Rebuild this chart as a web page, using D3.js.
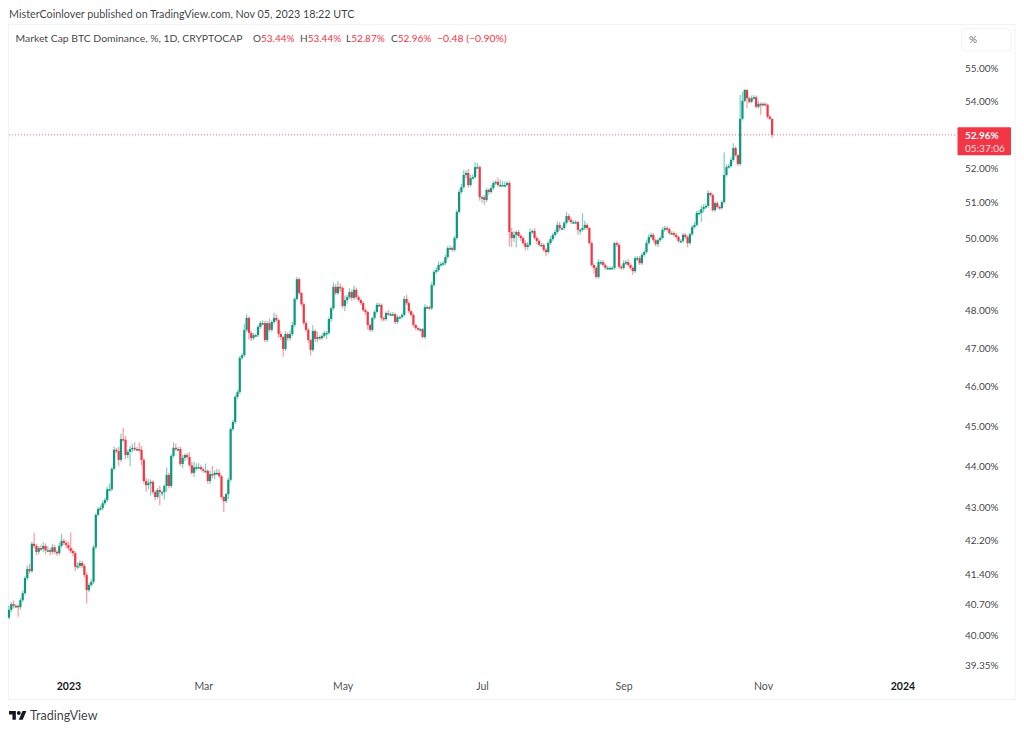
<!DOCTYPE html>
<html><head><meta charset="utf-8">
<style>
html,body{margin:0;padding:0;background:#fff}
svg{display:block}
text{font-family:"Lato",sans-serif}
</style>
<script src="https://cdn.jsdelivr.net/npm/d3@7"></script>
</head><body>
<svg id="c" width="1024" height="731"></svg>
<script>
const firstDay = "2022-12-06";
const firstOpen = 40.39;
const closes = [
40.57,40.70,40.66,40.66,40.63,40.79,40.95,41.30,41.51,41.46,
42.10,42.05,41.91,42.00,41.98,42.05,41.95,41.95,41.91,42.02,
41.91,41.88,42.05,42.17,42.12,42.07,42.00,41.93,41.88,41.56,
41.58,41.65,41.58,41.37,41.02,41.14,41.21,42.02,42.79,42.93,
42.95,43.07,43.15,43.41,43.41,43.91,44.38,44.35,44.13,44.65,
44.63,44.25,44.33,44.40,44.43,44.40,44.40,44.38,44.13,43.61,
43.51,43.56,43.59,43.34,43.22,43.39,43.34,43.34,43.49,43.76,
43.49,44.23,44.43,44.40,44.40,44.03,44.18,44.25,44.20,44.00,
43.81,43.95,43.95,43.95,43.90,43.86,43.86,43.61,43.78,43.76,
43.81,43.81,43.73,43.22,43.12,43.29,43.64,44.90,45.08,45.72,
45.84,46.73,46.80,47.47,47.79,47.39,47.25,47.33,47.33,47.55,
47.65,47.65,47.20,47.65,47.47,47.68,47.79,47.73,47.36,47.28,
46.96,47.36,47.25,47.36,47.60,48.30,48.84,48.46,48.16,47.65,
47.47,47.20,46.94,47.44,47.23,47.28,47.25,47.31,47.39,47.39,
47.76,48.05,48.63,48.46,48.63,48.60,48.11,48.27,48.35,48.49,
48.33,48.55,48.35,48.27,48.19,48.00,47.95,47.60,47.47,47.79,
47.95,48.14,48.14,47.79,47.76,47.92,47.89,47.89,47.89,47.68,
47.81,47.81,47.87,48.30,48.19,47.97,47.87,47.60,47.52,47.49,
47.49,47.28,48.08,48.08,48.05,48.68,49.04,49.09,49.23,49.26,
49.28,49.45,49.70,49.70,49.65,49.98,50.72,51.29,51.43,51.78,
51.84,51.49,51.69,51.72,52.01,52.01,51.14,51.14,51.06,51.35,
51.29,51.40,51.55,51.58,51.49,51.49,51.49,51.49,51.55,50.15,
49.98,50.07,50.15,50.04,49.98,49.84,49.73,49.79,50.15,50.18,
49.98,49.90,49.79,49.79,49.65,49.59,49.84,49.95,50.07,50.15,
50.35,50.26,50.26,50.41,50.60,50.49,50.43,50.43,50.43,50.21,
50.21,50.26,50.35,50.26,49.84,49.23,49.15,48.90,49.31,49.31,
49.23,49.15,49.15,49.15,49.15,49.84,49.79,49.18,49.15,49.28,
49.31,49.23,49.15,49.06,49.42,49.42,49.28,49.51,49.59,49.84,
50.01,50.07,49.92,49.81,49.92,49.98,50.21,50.26,50.23,50.12,
50.12,50.07,50.01,49.90,49.90,50.07,50.01,49.84,50.09,50.29,
50.35,50.69,50.69,50.80,50.86,50.89,51.26,51.20,50.77,50.97,
50.86,50.83,51.00,51.78,52.01,52.04,52.22,52.57,52.36,52.10,
53.44,53.98,54.31,54.06,53.95,54.06,54.09,53.80,53.89,53.86,
53.89,53.86,53.50,53.44,52.96];
const upperWick = [
.10,.05,.08,.04,.03,.05,.06,.04,.08,.12,
.05,.26,.05,.05,.08,.09,.06,.10,.05,.08,
.06,.04,.08,.17,.05,.05,.08,.36,.05,.05,
.08,.06,.05,.05,.06,.05,.06,.05,.04,.05,
.06,.06,.05,.06,.14,.05,.08,.05,.10,.14,
.28,.10,.06,.08,.10,.14,.05,.16,.10,.05,
.08,.10,.06,.04,.05,.05,.10,.04,.04,.18,
.06,.05,.14,.10,.05,.06,.08,.04,.06,.12,
.08,.14,.10,.10,.06,.05,.18,.04,.08,.20,
.06,.10,.08,.03,.03,.03,.05,.04,.05,.05,
.06,.05,.05,.16,.10,.04,.05,.06,.04,.05,
.06,.08,.06,.05,.12,.05,.14,.10,.03,.08,
.03,.08,.05,.10,.08,.05,.06,.04,.03,.05,
.06,.06,.03,.16,.05,.14,.05,.05,.05,.05,
.05,.05,.12,.08,.16,.10,.05,.12,.06,.10,
.06,.12,.06,.05,.04,.05,.05,.03,.05,.03,
.05,.06,.05,.04,.04,.05,.08,.05,.06,.04,
.06,.04,.05,.08,.12,.05,.04,.05,.03,.04,
.03,.03,.08,.05,.04,.08,.06,.08,.10,.05,
.06,.06,.05,.08,.05,.06,.06,.08,.10,.14,
.08,.12,.10,.08,.14,.12,.05,.04,.06,.05,
.05,.08,.05,.05,.12,.15,.12,.10,.05,.05,
.12,.10,.05,.06,.05,.05,.08,.08,.10,.05,
.08,.05,.05,.06,.04,.05,.05,.08,.05,.08,
.10,.08,.05,.05,.12,.06,.08,.05,.06,.04,
.05,.42,.12,.05,.03,.04,.05,.05,.08,.05,
.06,.04,.05,.04,.05,.04,.05,.05,.05,.08,
.06,.08,.05,.05,.05,.06,.06,.05,.05,.08,
.08,.06,.05,.05,.05,.06,.08,.06,.06,.05,
.05,.05,.05,.04,.05,.05,.05,.04,.04,.06,
.08,.06,.08,.10,.08,.06,.08,.04,.04,.05,
.05,.04,.05,.66,.08,.06,.08,.14,.05,.03,
.72,.27,.03,.03,.05,.08,.07,.05,.08,.05,
.05,.03,.04,.05,0];
const lowerWick = [
.03,.05,.06,.05,.22,.06,.04,.05,.05,.06,
.04,.05,.08,.06,.05,.08,.10,.05,.08,.06,
.05,.06,.05,.04,.05,.08,.06,.05,.08,.10,
.06,.05,.05,.05,.30,.05,.04,.05,.05,.04,
.05,.05,.04,.05,.05,.05,.05,.05,.16,.05,
.05,.10,.08,.36,.08,.05,.05,.05,.14,.06,
.16,.10,.30,.05,.08,.05,.32,.10,.18,.14,
.06,.05,.05,.05,.06,.05,.10,.08,.06,.05,
.04,.10,.08,.05,.04,.05,.06,.06,.08,.08,
.10,.05,.05,.05,.26,.05,.12,.05,.05,.05,
.05,.05,.05,.05,.05,.18,.08,.05,.05,.05,
.05,.05,.05,.06,.05,.05,.05,.05,.10,.08,
.20,.05,.06,.06,.05,.05,.05,.05,.05,.05,
.05,.08,.14,.05,.08,.08,.05,.05,.05,.16,
.05,.08,.05,.06,.05,.10,.06,.14,.10,.05,
.08,.05,.05,.04,.05,.05,.08,.12,.05,.05,
.05,.05,.05,.08,.06,.05,.04,.05,.04,.05,
.05,.04,.04,.05,.05,.06,.05,.06,.05,.05,
.06,.04,.05,.05,.05,.05,.05,.05,.05,.05,
.05,.05,.05,.05,.05,.05,.05,.05,.06,.05,
.10,.08,.06,.05,.05,.05,.10,.16,.14,.06,
.08,.05,.05,.06,.05,.04,.04,.05,.05,.40,
.25,.10,.35,.05,.08,.05,.10,.08,.05,.06,
.05,.10,.05,.06,.05,.12,.05,.05,.05,.05,
.05,.08,.05,.05,.05,.05,.06,.05,.04,.14,
.14,.05,.05,.05,.04,.05,.16,.05,.05,.08,
.05,.05,.05,.05,.05,.05,.05,.05,.05,.05,
.05,.05,.06,.10,.05,.08,.05,.05,.05,.05,
.05,.05,.05,.06,.08,.05,.04,.05,.05,.05,
.05,.05,.05,.05,.05,.05,.05,.12,.05,.05,
.05,.05,.05,.26,.10,.05,.05,.05,.05,.05,
.05,.05,.05,.05,.05,.05,.05,.05,.05,.05,
.05,.05,.05,.30,.05,.04,.05,.05,.05,.30,
.05,.05,.05,.04,.09];
const priceTicks = [55,54,52,51,50,49,48,47,46,45,44,43,42.2,41.4,40.7,40,39.35];
const timeTicks = ["2023-01-01","2023-03-01","2023-05-01","2023-07-01","2023-09-01","2023-11-01","2024-01-01"];
const timeLabels = ["2023","Mar","May","Jul","Sep","Nov","2024"];
const lastPrice = 52.96;
const countdown = "05:37:06";
const headerText = "MisterCoinlover published on TradingView.com, Nov 05, 2023 18:22 UTC";
const legendTitle = "Market Cap BTC Dominance, %, 1D, CRYPTOCAP";
const legendOHLC = [["O","53.44%"],["H","53.44%"],["L","52.87%"],["C","52.96%"]];
const legendChange = "−0.48 (−0.90%)";

const UP="#089981", DOWN="#F23645", TXT="#131722", FRAME="#F0F3FA";
const FONT='"Lato",sans-serif';
const svg=d3.select("#c");
const parse=d3.utcParse("%Y-%m-%d");
const x=d3.scaleUtc().domain([parse("2023-01-01"),parse("2024-01-01")]).range([68.4,902.4]);
const y=d3.scaleLog().domain([55,40]).range([67.5,635]);

const candles=closes.map((c,i)=>{
  const o=i?closes[i-1]:firstOpen;
  return {date:d3.utcDay.offset(parse(firstDay),i),o,c,
    h:Math.max(o,c)+upperWick[i],l:Math.min(o,c)-lowerWick[i]};
});

// frame
svg.append("rect").attr("x",8.5).attr("y",24.5).attr("width",1006.5).attr("height",675)
  .attr("fill","none").attr("stroke",FRAME);

// header
svg.append("text").attr("x",9).attr("y",18).attr("font-size",10.75).attr("fill",TXT).attr("fill-opacity",.85).text(headerText);
svg.append("text").attr("x",15.5).attr("y",42).attr("font-size",10.4).attr("fill",TXT).attr("fill-opacity",.85).text(legendTitle);
const legendX=[253,300,346,391];
legendOHLC.forEach((d,i)=>{
  const t=svg.append("text").attr("x",legendX[i]).attr("y",42).attr("font-size",10);
  t.append("tspan").attr("fill",TXT).attr("fill-opacity",.85).text(d[0]);
  t.append("tspan").attr("fill",DOWN).text(d[1]);
});
svg.append("text").attr("x",437).attr("y",42).attr("font-size",10.4).attr("fill",DOWN).text(legendChange);

// candles
const g=svg.append("g");
const col=d=>d.c>=d.o?UP:DOWN;
g.selectAll("line.w").data(candles).join("line").attr("class","w")
  .attr("x1",d=>x(d.date)).attr("x2",d=>x(d.date))
  .attr("y1",d=>y(d.h)).attr("y2",d=>y(d.l))
  .attr("stroke",col).attr("stroke-width",1.2).attr("stroke-opacity",.5);
g.selectAll("rect.b").data(candles).join("rect").attr("class","b")
  .attr("x",d=>x(d.date)-1.1).attr("width",2.2)
  .attr("y",d=>Math.min(y(d.o),y(d.c)))
  .attr("height",d=>Math.max(1.5,Math.abs(y(d.o)-y(d.c))))
  .attr("fill",col);

// last price line
svg.append("line").attr("x1",9).attr("x2",957).attr("y1",y(lastPrice)).attr("y2",y(lastPrice))
  .attr("stroke",DOWN).attr("stroke-width",1).attr("stroke-dasharray","1 2").attr("stroke-opacity",.7);

// price axis
const ya=svg.append("g").attr("transform","translate(965,0.7)")
  .call(d3.axisRight(y).tickValues(priceTicks).tickSize(0).tickPadding(0).tickFormat(d=>d.toFixed(2)+"%"));
ya.select(".domain").remove();
ya.selectAll("text").attr("font-family",FONT).attr("font-size",10).attr("fill",TXT).attr("fill-opacity",.85);

// time axis
const xa=svg.append("g").attr("transform","translate(0,682.5)")
  .call(d3.axisBottom(x).tickValues(timeTicks.map(parse)).tickSize(0).tickPadding(0).tickFormat((d,i)=>timeLabels[i]));
xa.select(".domain").remove();
xa.selectAll("text").attr("font-family",FONT).attr("font-size",10.5).attr("fill",TXT).attr("fill-opacity",.85)
  .attr("font-weight",(d,i)=>/^\d+$/.test(timeLabels[i])?700:400)
  .attr("fill-opacity",(d,i)=>/^\d+$/.test(timeLabels[i])?1:.8);

// last price tag
const tagY=y(lastPrice);
svg.append("rect").attr("x",957.5).attr("y",tagY-7.5).attr("width",53.5).attr("height",28).attr("rx",1).attr("fill",DOWN);
svg.append("text").attr("x",965).attr("y",tagY+4).attr("font-size",10).attr("font-weight",700).attr("fill","#fff").text(lastPrice.toFixed(2)+"%");
svg.append("text").attr("x",965).attr("y",tagY+17).attr("font-size",10).attr("fill","#fff").attr("fill-opacity",.85).text(countdown);

// scale button
svg.append("rect").attr("x",961.5).attr("y",28.5).attr("width",49.5).attr("height",22.5).attr("rx",4)
  .attr("fill","#fff").attr("stroke",FRAME);
svg.append("text").attr("x",969).attr("y",43).attr("font-size",10).attr("fill",TXT).attr("fill-opacity",.7).text("%");

// logo
const logo=svg.append("g").attr("transform","translate(9,709) scale(.49)").attr("fill","#131722");
logo.append("path").attr("d","M14 22H7V11H0V4h14v18zM28 22h-8l7.5-18h8L28 22z");
logo.append("circle").attr("cx",20).attr("cy",8).attr("r",4);
svg.append("text").attr("x",30).attr("y",720).attr("font-size",12.5).attr("fill",TXT).attr("fill-opacity",.85).text("TradingView");
</script>
</body></html>
